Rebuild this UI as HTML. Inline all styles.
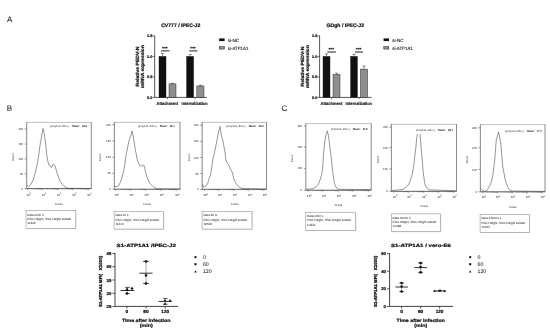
<!DOCTYPE html>
<html lang="en"><head><meta charset="utf-8"><title>Figure</title>
<style>
html,body{margin:0;padding:0;background:#fff;}
svg{display:block;font-family:"Liberation Sans", Arial, sans-serif;text-rendering:geometricPrecision;}
</style></head>
<body>
<svg width="550" height="330" viewBox="0 0 550 330">
<rect width="550" height="330" fill="#fff"/>
<text transform="translate(6.9 21.8)" font-size="8" font-weight="normal" text-anchor="start" fill="#222" stroke="#222" stroke-width="0.05" >A</text>
<text transform="translate(6.8 111.3)" font-size="8" font-weight="normal" text-anchor="start" fill="#222" stroke="#222" stroke-width="0.05" >B</text>
<text transform="translate(281.6 111.4)" font-size="8" font-weight="normal" text-anchor="start" fill="#222" stroke="#222" stroke-width="0.05" >C</text>
<text transform="translate(180.7 26.8)" font-size="5.1" font-weight="bold" text-anchor="middle" fill="#111" stroke="#111" stroke-width="0.22" >CV777 / IPEC-J2</text>
<path d="M154.7 35.599999999999994V97.4H207" stroke="#111" stroke-width="0.7" fill="none"/>
<path d="M152.7 97.4H154.7" stroke="#111" stroke-width="0.6"/>
<text transform="translate(152.39999999999998 98.75)" font-size="3.8" font-weight="bold" text-anchor="end" fill="#111" stroke="#111" stroke-width="0.22" >0.0</text>
<path d="M152.7 76.9H154.7" stroke="#111" stroke-width="0.6"/>
<text transform="translate(152.39999999999998 78.25)" font-size="3.8" font-weight="bold" text-anchor="end" fill="#111" stroke="#111" stroke-width="0.22" >0.5</text>
<path d="M152.7 56.4H154.7" stroke="#111" stroke-width="0.6"/>
<text transform="translate(152.39999999999998 57.75)" font-size="3.8" font-weight="bold" text-anchor="end" fill="#111" stroke="#111" stroke-width="0.22" >1.0</text>
<path d="M152.7 35.89999999999999H154.7" stroke="#111" stroke-width="0.6"/>
<text transform="translate(152.39999999999998 37.24999999999999)" font-size="3.8" font-weight="bold" text-anchor="end" fill="#111" stroke="#111" stroke-width="0.22" >1.5</text>
<path d="M167.4 97.4V99.2" stroke="#111" stroke-width="0.6"/>
<path d="M195 97.4V99.2" stroke="#111" stroke-width="0.6"/>
<rect x="159" y="56.4" width="7" height="41.00000000000001" fill="#111" stroke="#111" stroke-width="0.4"/>
<path d="M162.5 56.4V53.529999999999994M160.9 53.529999999999994H164.1" stroke="#222" stroke-width="0.5" fill="none"/>
<rect x="169" y="83.87" width="7" height="13.530000000000001" fill="#8e8e8e" stroke="#111" stroke-width="0.4"/>
<path d="M172.5 83.87V83.378M170.9 83.378H174.1" stroke="#222" stroke-width="0.5" fill="none"/>
<rect x="186.6" y="56.4" width="7.0" height="41.00000000000001" fill="#111" stroke="#111" stroke-width="0.4"/>
<path d="M190.1 56.4V54.349999999999994M188.5 54.349999999999994H191.7" stroke="#222" stroke-width="0.5" fill="none"/>
<rect x="196.8" y="85.92" width="7.199999999999989" height="11.480000000000004" fill="#8e8e8e" stroke="#111" stroke-width="0.4"/>
<path d="M200.4 85.92V85.305M198.8 85.305H202.0" stroke="#222" stroke-width="0.5" fill="none"/>
<path d="M161 50.9H169.5" stroke="#222" stroke-width="1.0"/>
<text transform="translate(164.85 50.0)" font-size="4.8" font-weight="bold" text-anchor="middle" fill="#111" stroke="#111" stroke-width="0.1" >***</text>
<path d="M189.2 50.9H197.4" stroke="#222" stroke-width="1.0"/>
<text transform="translate(192.9 50.0)" font-size="4.8" font-weight="bold" text-anchor="middle" fill="#111" stroke="#111" stroke-width="0.1" >***</text>
<text transform="translate(156.6 105.1) scale(0.8842 1)" font-size="4.4" font-weight="bold" text-anchor="start" fill="#111" stroke="#111" stroke-width="0.15" >Attachment</text>
<text transform="translate(181.6 105.1) scale(0.8718 1)" font-size="4.4" font-weight="bold" text-anchor="start" fill="#111" stroke="#111" stroke-width="0.15" >Internalization</text>
<text transform="translate(139 66.5) rotate(-90) scale(1.1096 1)" font-size="4.6" font-weight="bold" text-anchor="middle" fill="#111" stroke="#111" stroke-width="0.22" >Relative PEDV-N</text>
<text transform="translate(144.1 66.5) rotate(-90) scale(1.0899 1)" font-size="4.6" font-weight="bold" text-anchor="middle" fill="#111" stroke="#111" stroke-width="0.22" >mRNA expression</text>
<rect x="219.2" y="38.4" width="5.4" height="2.7" fill="#111"/>
<rect x="219.39999999999998" y="46.6" width="5" height="2.5" fill="#8e8e8e" stroke="#222" stroke-width="0.5"/>
<text transform="translate(227.79999999999998 41.5)" font-size="4.5" font-weight="normal" text-anchor="start" fill="#222" stroke="#222" stroke-width="0.12" >si-NC</text>
<text transform="translate(227.79999999999998 49.6) scale(0.9729 1)" font-size="4.5" font-weight="normal" text-anchor="start" fill="#222" stroke="#222" stroke-width="0.12" >si-ATP1A1</text>
<text transform="translate(345.3 26.8)" font-size="5.1" font-weight="bold" text-anchor="middle" fill="#111" stroke="#111" stroke-width="0.22" >GDgh / IPEC-J2</text>
<path d="M319.6 35.599999999999994V97.4H371.6" stroke="#111" stroke-width="0.7" fill="none"/>
<path d="M317.6 97.4H319.6" stroke="#111" stroke-width="0.6"/>
<text transform="translate(317.3 98.75)" font-size="3.8" font-weight="bold" text-anchor="end" fill="#111" stroke="#111" stroke-width="0.22" >0.0</text>
<path d="M317.6 76.9H319.6" stroke="#111" stroke-width="0.6"/>
<text transform="translate(317.3 78.25)" font-size="3.8" font-weight="bold" text-anchor="end" fill="#111" stroke="#111" stroke-width="0.22" >0.5</text>
<path d="M317.6 56.4H319.6" stroke="#111" stroke-width="0.6"/>
<text transform="translate(317.3 57.75)" font-size="3.8" font-weight="bold" text-anchor="end" fill="#111" stroke="#111" stroke-width="0.22" >1.0</text>
<path d="M317.6 35.89999999999999H319.6" stroke="#111" stroke-width="0.6"/>
<text transform="translate(317.3 37.24999999999999)" font-size="3.8" font-weight="bold" text-anchor="end" fill="#111" stroke="#111" stroke-width="0.22" >1.5</text>
<path d="M331.6 97.4V99.2" stroke="#111" stroke-width="0.6"/>
<path d="M359 97.4V99.2" stroke="#111" stroke-width="0.6"/>
<rect x="323" y="56.4" width="7" height="41.00000000000001" fill="#111" stroke="#111" stroke-width="0.4"/>
<path d="M326.5 56.4V53.94M324.9 53.94H328.1" stroke="#222" stroke-width="0.5" fill="none"/>
<rect x="333" y="74.44" width="7" height="22.960000000000008" fill="#8e8e8e" stroke="#111" stroke-width="0.4"/>
<path d="M336.5 74.44V73.21M334.9 73.21H338.1" stroke="#222" stroke-width="0.5" fill="none"/>
<rect x="350.6" y="56.4" width="6.7999999999999545" height="41.00000000000001" fill="#111" stroke="#111" stroke-width="0.4"/>
<path d="M354.0 56.4V54.349999999999994M352.4 54.349999999999994H355.6" stroke="#222" stroke-width="0.5" fill="none"/>
<rect x="360.4" y="69.11" width="7.2000000000000455" height="28.290000000000006" fill="#8e8e8e" stroke="#111" stroke-width="0.4"/>
<path d="M364.0 69.11V66.035M362.4 66.035H365.6" stroke="#222" stroke-width="0.5" fill="none"/>
<path d="M327.4 52H336" stroke="#222" stroke-width="1.0"/>
<text transform="translate(331.3 51.1)" font-size="4.8" font-weight="bold" text-anchor="middle" fill="#111" stroke="#111" stroke-width="0.1" >***</text>
<path d="M355 52H363" stroke="#222" stroke-width="1.0"/>
<text transform="translate(358.6 51.1)" font-size="4.8" font-weight="bold" text-anchor="middle" fill="#111" stroke="#111" stroke-width="0.1" >***</text>
<text transform="translate(320.6 105.1) scale(0.9007 1)" font-size="4.4" font-weight="bold" text-anchor="start" fill="#111" stroke="#111" stroke-width="0.15" >Attachment</text>
<text transform="translate(345.6 105.1) scale(0.8852 1)" font-size="4.4" font-weight="bold" text-anchor="start" fill="#111" stroke="#111" stroke-width="0.15" >Internalization</text>
<text transform="translate(304 66.5) rotate(-90) scale(1.1096 1)" font-size="4.6" font-weight="bold" text-anchor="middle" fill="#111" stroke="#111" stroke-width="0.22" >Relative PEDV-N</text>
<text transform="translate(309.1 66.5) rotate(-90) scale(1.0899 1)" font-size="4.6" font-weight="bold" text-anchor="middle" fill="#111" stroke="#111" stroke-width="0.22" >mRNA expression</text>
<rect x="383.6" y="38.4" width="5.4" height="2.7" fill="#111"/>
<rect x="383.8" y="46.6" width="5" height="2.5" fill="#8e8e8e" stroke="#222" stroke-width="0.5"/>
<text transform="translate(392.20000000000005 41.5)" font-size="4.5" font-weight="normal" text-anchor="start" fill="#222" stroke="#222" stroke-width="0.12" >si-NC</text>
<text transform="translate(392.20000000000005 49.6) scale(0.9729 1)" font-size="4.5" font-weight="normal" text-anchor="start" fill="#222" stroke="#222" stroke-width="0.12" >si-ATP1A1</text>
<path d="M26.7 122.4H91.3" fill="none" stroke="#8c8c8c" stroke-width="0.55"/>
<path d="M26.7 122.10000000000001V188.6M91.3 188.6V122.10000000000001" fill="none" stroke="#5a5a5a" stroke-width="0.7"/>
<path d="M26.4 188.6H91.6" fill="none" stroke="#444" stroke-width="0.85"/>
<path d="M24.599999999999998 188.6H26.7" stroke="#555" stroke-width="0.55"/>
<text transform="translate(23.0 189.6)" font-size="2.75" font-weight="normal" text-anchor="end" fill="#555" stroke="#555" stroke-width="0.05" >0</text>
<path d="M24.599999999999998 173.8H26.7" stroke="#555" stroke-width="0.55"/>
<text transform="translate(23.0 174.8)" font-size="2.75" font-weight="normal" text-anchor="end" fill="#555" stroke="#555" stroke-width="0.05" >50</text>
<path d="M24.599999999999998 158.9H26.7" stroke="#555" stroke-width="0.55"/>
<text transform="translate(23.0 159.9)" font-size="2.75" font-weight="normal" text-anchor="end" fill="#555" stroke="#555" stroke-width="0.05" >100</text>
<path d="M24.599999999999998 144H26.7" stroke="#555" stroke-width="0.55"/>
<text transform="translate(23.0 145.0)" font-size="2.75" font-weight="normal" text-anchor="end" fill="#555" stroke="#555" stroke-width="0.05" >150</text>
<path d="M24.599999999999998 129H26.7" stroke="#555" stroke-width="0.55"/>
<text transform="translate(23.0 130.0)" font-size="2.75" font-weight="normal" text-anchor="end" fill="#555" stroke="#555" stroke-width="0.05" >200</text>
<path d="M25.8 185.64H26.7M25.8 182.68H26.7M25.8 179.72H26.7M25.8 176.76H26.7M25.8 173.80H26.7M25.8 170.84H26.7M25.8 167.88H26.7M25.8 164.92H26.7M25.8 161.96H26.7M25.8 159.00H26.7M25.8 156.04H26.7M25.8 153.08H26.7M25.8 150.12H26.7M25.8 147.16H26.7M25.8 144.20H26.7M25.8 141.24H26.7M25.8 138.28H26.7M25.8 135.32H26.7M25.8 132.36H26.7M25.8 129.40H26.7M25.8 126.44H26.7M25.8 123.48H26.7" stroke="#888" stroke-width="0.35"/>
<text transform="translate(13.5 157.0) rotate(-90)" font-size="2.7" font-weight="normal" text-anchor="middle" fill="#555" stroke="#555" stroke-width="0.05" >Count</text>
<text x="28.7" y="195.6" font-size="2.8" fill="#444" stroke="#444" stroke-width="0.06" text-anchor="middle">10<tspan dy="-1.3" font-size="1.9">0</tspan></text>
<text x="44.1" y="195.6" font-size="2.8" fill="#444" stroke="#444" stroke-width="0.06" text-anchor="middle">10<tspan dy="-1.3" font-size="1.9">1</tspan></text>
<text x="59.1" y="195.6" font-size="2.8" fill="#444" stroke="#444" stroke-width="0.06" text-anchor="middle">10<tspan dy="-1.3" font-size="1.9">2</tspan></text>
<text x="74.3" y="195.6" font-size="2.8" fill="#444" stroke="#444" stroke-width="0.06" text-anchor="middle">10<tspan dy="-1.3" font-size="1.9">3</tspan></text>
<text x="89.4" y="195.6" font-size="2.8" fill="#444" stroke="#444" stroke-width="0.06" text-anchor="middle">10<tspan dy="-1.3" font-size="1.9">4</tspan></text>
<path d="M27.60 188.6V190.2M32.17 188.6V189.5M34.84 188.6V189.5M36.74 188.6V189.5M38.21 188.6V189.5M39.41 188.6V189.5M40.42 188.6V189.5M41.30 188.6V189.5M42.08 188.6V189.5M42.78 188.6V190.2M47.34 188.6V189.5M50.02 188.6V189.5M51.91 188.6V189.5M53.38 188.6V189.5M54.58 188.6V189.5M55.60 188.6V189.5M56.48 188.6V189.5M57.26 188.6V189.5M57.95 188.6V190.2M62.52 188.6V189.5M65.19 188.6V189.5M67.09 188.6V189.5M68.56 188.6V189.5M69.76 188.6V189.5M70.77 188.6V189.5M71.65 188.6V189.5M72.43 188.6V189.5M73.12 188.6V190.2M77.69 188.6V189.5M80.37 188.6V189.5M82.26 188.6V189.5M83.73 188.6V189.5M84.93 188.6V189.5M85.95 188.6V189.5M86.83 188.6V189.5M87.61 188.6V189.5M88.30 188.6V190.2" stroke="#444" stroke-width="0.45"/>
<text transform="translate(58.6 204.6)" font-size="2.7" font-weight="normal" text-anchor="middle" fill="#444" stroke="#444" stroke-width="0.06" >FL2-H</text>
<text transform="translate(50 126.95) scale(1.0191 1)" font-size="2.75" font-weight="normal" text-anchor="start" fill="#555" stroke="#555" stroke-width="0.04" >(poly1a1=51n-)</text>
<text transform="translate(70.99863574351978 126.95)" font-size="2.75" font-weight="normal" text-anchor="start" fill="#555" stroke="#555" stroke-width="0.04" >:</text>
<text transform="translate(72.2605729877217 126.95) scale(0.9904 1)" font-size="2.75" font-weight="normal" text-anchor="start" fill="#3a3a3a" stroke="#3a3a3a" stroke-width="0.1" >Mean:</text>
<text transform="translate(81.95225102319236 126.95) scale(0.9435 1)" font-size="2.75" font-weight="normal" text-anchor="start" fill="#3a3a3a" stroke="#3a3a3a" stroke-width="0.1" >26.8</text>
<polyline points="27,185 28.5,186.5 30,185.6 31,184 33,180.5 35,174 37,165 38.5,157 39.5,149 40.5,142 41.2,139 41.6,135 42.5,132 43,128.5 44,132 44.6,137 45.5,142 46,147 46.5,152 47,157 48,162 49,165 50.5,166 51.5,167.5 53,164.5 54,164.6 55,166 56.5,171 58,176 60,181 62,184 64,186 66,187.5 68,188.3 91,188.5" fill="none" stroke="#505050" stroke-width="0.6" stroke-linejoin="round"/>
<rect x="26.6" y="211.1" width="49.8" height="18.0" fill="#ddd"/>
<rect x="26" y="210.5" width="49.8" height="18.0" fill="#fff" stroke="#888" stroke-width="0.55"/>
<text transform="translate(27.3 215.5)" font-size="3.05" font-weight="normal" text-anchor="start" fill="#444" stroke="#444" stroke-width="0.04" >Data.0min 2</text>
<text transform="translate(27.3 219.75) scale(1.0031 1)" font-size="3.05" font-weight="normal" text-anchor="start" fill="#444" stroke="#444" stroke-width="0.04" >FSC-Height, SSC-Height subset</text>
<text transform="translate(27.3 224.0)" font-size="3.05" font-weight="normal" text-anchor="start" fill="#444" stroke="#444" stroke-width="0.04" >11343</text>
<path d="M114.4 122.4H180" fill="none" stroke="#8c8c8c" stroke-width="0.55"/>
<path d="M114.4 122.10000000000001V189.2M180 189.2V122.10000000000001" fill="none" stroke="#5a5a5a" stroke-width="0.7"/>
<path d="M114.10000000000001 189.2H180.3" fill="none" stroke="#444" stroke-width="0.85"/>
<path d="M112.30000000000001 189.2H114.4" stroke="#555" stroke-width="0.55"/>
<text transform="translate(110.7 190.2)" font-size="2.75" font-weight="normal" text-anchor="end" fill="#555" stroke="#555" stroke-width="0.05" >0</text>
<path d="M112.30000000000001 173.3H114.4" stroke="#555" stroke-width="0.55"/>
<text transform="translate(110.7 174.3)" font-size="2.75" font-weight="normal" text-anchor="end" fill="#555" stroke="#555" stroke-width="0.05" >50</text>
<path d="M112.30000000000001 157.2H114.4" stroke="#555" stroke-width="0.55"/>
<text transform="translate(110.7 158.2)" font-size="2.75" font-weight="normal" text-anchor="end" fill="#555" stroke="#555" stroke-width="0.05" >100</text>
<path d="M112.30000000000001 140.8H114.4" stroke="#555" stroke-width="0.55"/>
<text transform="translate(110.7 141.8)" font-size="2.75" font-weight="normal" text-anchor="end" fill="#555" stroke="#555" stroke-width="0.05" >150</text>
<path d="M112.30000000000001 124.6H114.4" stroke="#555" stroke-width="0.55"/>
<text transform="translate(110.7 125.6)" font-size="2.75" font-weight="normal" text-anchor="end" fill="#555" stroke="#555" stroke-width="0.05" >200</text>
<path d="M113.5 186.02H114.4M113.5 182.84H114.4M113.5 179.66H114.4M113.5 176.48H114.4M113.5 173.30H114.4M113.5 170.12H114.4M113.5 166.94H114.4M113.5 163.76H114.4M113.5 160.58H114.4M113.5 157.40H114.4M113.5 154.22H114.4M113.5 151.04H114.4M113.5 147.86H114.4M113.5 144.68H114.4M113.5 141.50H114.4M113.5 138.32H114.4M113.5 135.14H114.4M113.5 131.96H114.4M113.5 128.78H114.4M113.5 125.60H114.4M113.5 122.42H114.4" stroke="#888" stroke-width="0.35"/>
<text transform="translate(101 157.3) rotate(-90)" font-size="2.7" font-weight="normal" text-anchor="middle" fill="#555" stroke="#555" stroke-width="0.05" >Count</text>
<text x="116.8" y="196.39999999999998" font-size="2.8" fill="#444" stroke="#444" stroke-width="0.06" text-anchor="middle">10<tspan dy="-1.3" font-size="1.9">0</tspan></text>
<text x="131.5" y="196.39999999999998" font-size="2.8" fill="#444" stroke="#444" stroke-width="0.06" text-anchor="middle">10<tspan dy="-1.3" font-size="1.9">1</tspan></text>
<text x="146.7" y="196.39999999999998" font-size="2.8" fill="#444" stroke="#444" stroke-width="0.06" text-anchor="middle">10<tspan dy="-1.3" font-size="1.9">2</tspan></text>
<text x="161.79999999999998" y="196.39999999999998" font-size="2.8" fill="#444" stroke="#444" stroke-width="0.06" text-anchor="middle">10<tspan dy="-1.3" font-size="1.9">3</tspan></text>
<text x="177.39999999999998" y="196.39999999999998" font-size="2.8" fill="#444" stroke="#444" stroke-width="0.06" text-anchor="middle">10<tspan dy="-1.3" font-size="1.9">4</tspan></text>
<path d="M115.70 189.2V190.79999999999998M120.26 189.2V190.1M122.93 189.2V190.1M124.82 189.2V190.1M126.29 189.2V190.1M127.49 189.2V190.1M128.50 189.2V190.1M129.38 189.2V190.1M130.16 189.2V190.1M130.85 189.2V190.79999999999998M135.41 189.2V190.1M138.08 189.2V190.1M139.97 189.2V190.1M141.44 189.2V190.1M142.64 189.2V190.1M143.65 189.2V190.1M144.53 189.2V190.1M145.31 189.2V190.1M146.00 189.2V190.79999999999998M150.56 189.2V190.1M153.23 189.2V190.1M155.12 189.2V190.1M156.59 189.2V190.1M157.79 189.2V190.1M158.80 189.2V190.1M159.68 189.2V190.1M160.46 189.2V190.1M161.15 189.2V190.79999999999998M165.71 189.2V190.1M168.38 189.2V190.1M170.27 189.2V190.1M171.74 189.2V190.1M172.94 189.2V190.1M173.95 189.2V190.1M174.83 189.2V190.1M175.61 189.2V190.1M176.30 189.2V190.79999999999998" stroke="#444" stroke-width="0.45"/>
<text transform="translate(147 205.4)" font-size="2.7" font-weight="normal" text-anchor="middle" fill="#444" stroke="#444" stroke-width="0.06" >FL2-H</text>
<text transform="translate(137.9 127.05) scale(1.0137 1)" font-size="2.75" font-weight="normal" text-anchor="start" fill="#555" stroke="#555" stroke-width="0.04" >(poly1a1=51n-)</text>
<text transform="translate(158.78512960436564 127.05)" font-size="2.75" font-weight="normal" text-anchor="start" fill="#555" stroke="#555" stroke-width="0.04" >:</text>
<text transform="translate(160.04024556616645 127.05) scale(0.9852 1)" font-size="2.75" font-weight="normal" text-anchor="start" fill="#3a3a3a" stroke="#3a3a3a" stroke-width="0.1" >Mean:</text>
<text transform="translate(169.67953615279671 127.05) scale(0.9379 1)" font-size="2.75" font-weight="normal" text-anchor="start" fill="#3a3a3a" stroke="#3a3a3a" stroke-width="0.1" >42.1</text>
<polyline points="114.5,186 116,186.7 118.5,186 120,183 121.5,179 123,173.5 124,169 125,163 125.8,157 126.5,153 127.5,148 128.5,143 129.5,139 130.2,137.5 131,135 132,131 133,135 134,141 135,148 136,153 136.8,157 137.5,161 138.5,162.5 139.5,165 140.5,166.3 141.5,165.5 142.5,166 143.7,165 144.5,167 145.5,172 147,177 149,182 151,184.5 153,186.5 155,188 157,188.8 180,189" fill="none" stroke="#505050" stroke-width="0.6" stroke-linejoin="round"/>
<rect x="114.69999999999999" y="212.0" width="49.599999999999994" height="17.69999999999999" fill="#ddd"/>
<rect x="114.1" y="211.4" width="49.599999999999994" height="17.69999999999999" fill="#fff" stroke="#888" stroke-width="0.55"/>
<text transform="translate(115.39999999999999 216.4)" font-size="3.05" font-weight="normal" text-anchor="start" fill="#444" stroke="#444" stroke-width="0.04" >Data.1h 1</text>
<text transform="translate(115.39999999999999 220.65) scale(1.0031 1)" font-size="3.05" font-weight="normal" text-anchor="start" fill="#444" stroke="#444" stroke-width="0.04" >FSC-Height, SSC-Height subset</text>
<text transform="translate(115.39999999999999 224.9)" font-size="3.05" font-weight="normal" text-anchor="start" fill="#444" stroke="#444" stroke-width="0.04" >11410</text>
<path d="M202.2 122.4H266.5" fill="none" stroke="#8c8c8c" stroke-width="0.55"/>
<path d="M202.2 122.10000000000001V189.3M266.5 189.3V122.10000000000001" fill="none" stroke="#5a5a5a" stroke-width="0.7"/>
<path d="M201.89999999999998 189.3H266.8" fill="none" stroke="#444" stroke-width="0.85"/>
<path d="M200.1 189.3H202.2" stroke="#555" stroke-width="0.55"/>
<text transform="translate(198.5 190.3)" font-size="2.75" font-weight="normal" text-anchor="end" fill="#555" stroke="#555" stroke-width="0.05" >0</text>
<path d="M200.1 173.5H202.2" stroke="#555" stroke-width="0.55"/>
<text transform="translate(198.5 174.5)" font-size="2.75" font-weight="normal" text-anchor="end" fill="#555" stroke="#555" stroke-width="0.05" >50</text>
<path d="M200.1 157.5H202.2" stroke="#555" stroke-width="0.55"/>
<text transform="translate(198.5 158.5)" font-size="2.75" font-weight="normal" text-anchor="end" fill="#555" stroke="#555" stroke-width="0.05" >100</text>
<path d="M200.1 141.3H202.2" stroke="#555" stroke-width="0.55"/>
<text transform="translate(198.5 142.3)" font-size="2.75" font-weight="normal" text-anchor="end" fill="#555" stroke="#555" stroke-width="0.05" >150</text>
<path d="M200.1 125.3H202.2" stroke="#555" stroke-width="0.55"/>
<text transform="translate(198.5 126.3)" font-size="2.75" font-weight="normal" text-anchor="end" fill="#555" stroke="#555" stroke-width="0.05" >200</text>
<path d="M201.29999999999998 186.14H202.2M201.29999999999998 182.98H202.2M201.29999999999998 179.82H202.2M201.29999999999998 176.66H202.2M201.29999999999998 173.50H202.2M201.29999999999998 170.34H202.2M201.29999999999998 167.18H202.2M201.29999999999998 164.02H202.2M201.29999999999998 160.86H202.2M201.29999999999998 157.70H202.2M201.29999999999998 154.54H202.2M201.29999999999998 151.38H202.2M201.29999999999998 148.22H202.2M201.29999999999998 145.06H202.2M201.29999999999998 141.90H202.2M201.29999999999998 138.74H202.2M201.29999999999998 135.58H202.2M201.29999999999998 132.42H202.2M201.29999999999998 129.26H202.2M201.29999999999998 126.10H202.2M201.29999999999998 122.94H202.2" stroke="#888" stroke-width="0.35"/>
<text transform="translate(190 157.35000000000002) rotate(-90)" font-size="2.7" font-weight="normal" text-anchor="middle" fill="#555" stroke="#555" stroke-width="0.05" >Count</text>
<text x="205.6" y="196.39999999999998" font-size="2.8" fill="#444" stroke="#444" stroke-width="0.06" text-anchor="middle">10<tspan dy="-1.3" font-size="1.9">0</tspan></text>
<text x="220.0" y="196.39999999999998" font-size="2.8" fill="#444" stroke="#444" stroke-width="0.06" text-anchor="middle">10<tspan dy="-1.3" font-size="1.9">1</tspan></text>
<text x="235.0" y="196.39999999999998" font-size="2.8" fill="#444" stroke="#444" stroke-width="0.06" text-anchor="middle">10<tspan dy="-1.3" font-size="1.9">2</tspan></text>
<text x="250.1" y="196.39999999999998" font-size="2.8" fill="#444" stroke="#444" stroke-width="0.06" text-anchor="middle">10<tspan dy="-1.3" font-size="1.9">3</tspan></text>
<text x="264.8" y="196.39999999999998" font-size="2.8" fill="#444" stroke="#444" stroke-width="0.06" text-anchor="middle">10<tspan dy="-1.3" font-size="1.9">4</tspan></text>
<path d="M204.50 189.3V190.9M208.96 189.3V190.20000000000002M211.56 189.3V190.20000000000002M213.41 189.3V190.20000000000002M214.84 189.3V190.20000000000002M216.02 189.3V190.20000000000002M217.01 189.3V190.20000000000002M217.87 189.3V190.20000000000002M218.62 189.3V190.20000000000002M219.30 189.3V190.9M223.76 189.3V190.20000000000002M226.36 189.3V190.20000000000002M228.21 189.3V190.20000000000002M229.64 189.3V190.20000000000002M230.82 189.3V190.20000000000002M231.81 189.3V190.20000000000002M232.67 189.3V190.20000000000002M233.42 189.3V190.20000000000002M234.10 189.3V190.9M238.56 189.3V190.20000000000002M241.16 189.3V190.20000000000002M243.01 189.3V190.20000000000002M244.44 189.3V190.20000000000002M245.62 189.3V190.20000000000002M246.61 189.3V190.20000000000002M247.47 189.3V190.20000000000002M248.22 189.3V190.20000000000002M248.90 189.3V190.9M253.36 189.3V190.20000000000002M255.96 189.3V190.20000000000002M257.81 189.3V190.20000000000002M259.24 189.3V190.20000000000002M260.42 189.3V190.20000000000002M261.41 189.3V190.20000000000002M262.27 189.3V190.20000000000002M263.02 189.3V190.20000000000002M263.70 189.3V190.9" stroke="#444" stroke-width="0.45"/>
<text transform="translate(234.8 205.4)" font-size="2.7" font-weight="normal" text-anchor="middle" fill="#444" stroke="#444" stroke-width="0.06" >FL2-H</text>
<text transform="translate(226.3 126.95) scale(1.0245 1)" font-size="2.75" font-weight="normal" text-anchor="start" fill="#555" stroke="#555" stroke-width="0.04" >(poly1a1=51n-)</text>
<text transform="translate(247.41214188267395 126.95)" font-size="2.75" font-weight="normal" text-anchor="start" fill="#555" stroke="#555" stroke-width="0.04" >:</text>
<text transform="translate(248.68090040927694 126.95) scale(0.9957 1)" font-size="2.75" font-weight="normal" text-anchor="start" fill="#3a3a3a" stroke="#3a3a3a" stroke-width="0.1" >Mean:</text>
<text transform="translate(258.424965893588 126.95) scale(0.9491 1)" font-size="2.75" font-weight="normal" text-anchor="start" fill="#3a3a3a" stroke="#3a3a3a" stroke-width="0.1" >26.3</text>
<polyline points="202.5,184 203.5,187 205.5,186.5 207.5,184 209,179 210.5,174.5 211.5,169 212.5,162 213.3,157 214,155 215,150 216,145 217,140 218,135 219,130 219.6,129.5 220,126.5 220.5,130 221.5,136 223,141 224,147 225,152 225.5,157 226,161 227,163 228.5,164.5 229.5,167 231,170 232.5,173 233.3,177 234.5,181 236.5,184 239,187 242,188.5 266,189" fill="none" stroke="#505050" stroke-width="0.6" stroke-linejoin="round"/>
<rect x="202.7" y="212.0" width="49.900000000000006" height="17.69999999999999" fill="#ddd"/>
<rect x="202.1" y="211.4" width="49.900000000000006" height="17.69999999999999" fill="#fff" stroke="#888" stroke-width="0.55"/>
<text transform="translate(203.4 216.4)" font-size="3.05" font-weight="normal" text-anchor="start" fill="#444" stroke="#444" stroke-width="0.04" >Data.2h 3</text>
<text transform="translate(203.4 220.65) scale(1.0031 1)" font-size="3.05" font-weight="normal" text-anchor="start" fill="#444" stroke="#444" stroke-width="0.04" >FSC-Height, SSC-Height subset</text>
<text transform="translate(203.4 224.9)" font-size="3.05" font-weight="normal" text-anchor="start" fill="#444" stroke="#444" stroke-width="0.04" >11538</text>
<path d="M305.8 123.6H371.2" fill="none" stroke="#8c8c8c" stroke-width="0.55"/>
<path d="M305.8 123.3V190.2M371.2 190.2V123.3" fill="none" stroke="#5a5a5a" stroke-width="0.7"/>
<path d="M305.5 190.2H371.5" fill="none" stroke="#444" stroke-width="0.85"/>
<path d="M303.7 190.2H305.8" stroke="#555" stroke-width="0.55"/>
<text transform="translate(302.1 191.2)" font-size="2.75" font-weight="normal" text-anchor="end" fill="#555" stroke="#555" stroke-width="0.05" >0</text>
<path d="M303.7 168.4H305.8" stroke="#555" stroke-width="0.55"/>
<text transform="translate(302.1 169.4)" font-size="2.75" font-weight="normal" text-anchor="end" fill="#555" stroke="#555" stroke-width="0.05" >100</text>
<path d="M303.7 147H305.8" stroke="#555" stroke-width="0.55"/>
<text transform="translate(302.1 148.0)" font-size="2.75" font-weight="normal" text-anchor="end" fill="#555" stroke="#555" stroke-width="0.05" >200</text>
<path d="M303.7 126.1H305.8" stroke="#555" stroke-width="0.55"/>
<text transform="translate(302.1 127.1)" font-size="2.75" font-weight="normal" text-anchor="end" fill="#555" stroke="#555" stroke-width="0.05" >300</text>
<path d="M304.90000000000003 185.84H305.8M304.90000000000003 181.48H305.8M304.90000000000003 177.12H305.8M304.90000000000003 172.76H305.8M304.90000000000003 168.40H305.8M304.90000000000003 164.04H305.8M304.90000000000003 159.68H305.8M304.90000000000003 155.32H305.8M304.90000000000003 150.96H305.8M304.90000000000003 146.60H305.8M304.90000000000003 142.24H305.8M304.90000000000003 137.88H305.8M304.90000000000003 133.52H305.8M304.90000000000003 129.16H305.8M304.90000000000003 124.80H305.8" stroke="#888" stroke-width="0.35"/>
<text transform="translate(293.4 158.39999999999998) rotate(-90)" font-size="2.7" font-weight="normal" text-anchor="middle" fill="#555" stroke="#555" stroke-width="0.05" >Count</text>
<text x="309.2" y="197.1" font-size="2.8" fill="#444" stroke="#444" stroke-width="0.06" text-anchor="middle">10<tspan dy="-1.3" font-size="1.9">0</tspan></text>
<text x="324.0" y="197.1" font-size="2.8" fill="#444" stroke="#444" stroke-width="0.06" text-anchor="middle">10<tspan dy="-1.3" font-size="1.9">1</tspan></text>
<text x="338.9" y="197.1" font-size="2.8" fill="#444" stroke="#444" stroke-width="0.06" text-anchor="middle">10<tspan dy="-1.3" font-size="1.9">2</tspan></text>
<text x="354.3" y="197.1" font-size="2.8" fill="#444" stroke="#444" stroke-width="0.06" text-anchor="middle">10<tspan dy="-1.3" font-size="1.9">3</tspan></text>
<text x="369.5" y="197.1" font-size="2.8" fill="#444" stroke="#444" stroke-width="0.06" text-anchor="middle">10<tspan dy="-1.3" font-size="1.9">4</tspan></text>
<path d="M308.10 190.2V191.79999999999998M312.64 190.2V191.1M315.29 190.2V191.1M317.18 190.2V191.1M318.64 190.2V191.1M319.83 190.2V191.1M320.84 190.2V191.1M321.71 190.2V191.1M322.49 190.2V191.1M323.18 190.2V191.79999999999998M327.71 190.2V191.1M330.37 190.2V191.1M332.25 190.2V191.1M333.71 190.2V191.1M334.91 190.2V191.1M335.91 190.2V191.1M336.79 190.2V191.1M337.56 190.2V191.1M338.25 190.2V191.79999999999998M342.79 190.2V191.1M345.44 190.2V191.1M347.33 190.2V191.1M348.79 190.2V191.1M349.98 190.2V191.1M350.99 190.2V191.1M351.86 190.2V191.1M352.64 190.2V191.1M353.33 190.2V191.79999999999998M357.86 190.2V191.1M360.52 190.2V191.1M362.40 190.2V191.1M363.86 190.2V191.1M365.06 190.2V191.1M366.06 190.2V191.1M366.94 190.2V191.1M367.71 190.2V191.1M368.40 190.2V191.79999999999998" stroke="#444" stroke-width="0.45"/>
<text transform="translate(338.5 206.3)" font-size="2.7" font-weight="normal" text-anchor="middle" fill="#444" stroke="#444" stroke-width="0.06" >FL2-H</text>
<text transform="translate(330.8 130.35) scale(1.0164 1)" font-size="2.75" font-weight="normal" text-anchor="start" fill="#555" stroke="#555" stroke-width="0.04" >(poly1a1=51n-)</text>
<text transform="translate(351.7418826739427 130.35)" font-size="2.75" font-weight="normal" text-anchor="start" fill="#555" stroke="#555" stroke-width="0.04" >:</text>
<text transform="translate(353.0004092769441 130.35) scale(0.9878 1)" font-size="2.75" font-weight="normal" text-anchor="start" fill="#3a3a3a" stroke="#3a3a3a" stroke-width="0.1" >Mean:</text>
<text transform="translate(362.66589358799456 130.35) scale(0.9398 1)" font-size="2.75" font-weight="normal" text-anchor="start" fill="#3a3a3a" stroke="#3a3a3a" stroke-width="0.1" >22.5</text>
<polyline points="306,189.3 310,189 313,188.5 316,187 318.5,184 320,180 321.5,175 322.5,169 323,163 323.3,157 323.7,152 324.3,146 325,140 326,135 327.3,130.8 328.3,135 329,140 329.7,146 330.5,152 331.2,157 331.8,163 332.5,170 333.3,176 334,181 335,185 336.5,188 339,189.3 371,189.6" fill="none" stroke="#505050" stroke-width="0.6" stroke-linejoin="round"/>
<rect x="306.40000000000003" y="212.79999999999998" width="49.89999999999998" height="18.200000000000017" fill="#ddd"/>
<rect x="305.8" y="212.2" width="49.89999999999998" height="18.200000000000017" fill="#fff" stroke="#888" stroke-width="0.55"/>
<text transform="translate(307.1 217.2)" font-size="3.05" font-weight="normal" text-anchor="start" fill="#444" stroke="#444" stroke-width="0.04" >Data.0min 1</text>
<text transform="translate(307.1 221.45) scale(1.0031 1)" font-size="3.05" font-weight="normal" text-anchor="start" fill="#444" stroke="#444" stroke-width="0.04" >FSC-Height, SSC-Height subset</text>
<text transform="translate(307.1 225.7)" font-size="3.05" font-weight="normal" text-anchor="start" fill="#444" stroke="#444" stroke-width="0.04" >10331</text>
<path d="M391.4 124.3H456.5" fill="none" stroke="#8c8c8c" stroke-width="0.55"/>
<path d="M391.4 124.0V191.3M456.5 191.3V124.0" fill="none" stroke="#5a5a5a" stroke-width="0.7"/>
<path d="M391.09999999999997 191.3H456.8" fill="none" stroke="#444" stroke-width="0.85"/>
<path d="M389.29999999999995 191.3H391.4" stroke="#555" stroke-width="0.55"/>
<text transform="translate(387.7 192.3)" font-size="2.75" font-weight="normal" text-anchor="end" fill="#555" stroke="#555" stroke-width="0.05" >0</text>
<path d="M389.29999999999995 169H391.4" stroke="#555" stroke-width="0.55"/>
<text transform="translate(387.7 170.0)" font-size="2.75" font-weight="normal" text-anchor="end" fill="#555" stroke="#555" stroke-width="0.05" >100</text>
<path d="M389.29999999999995 147.5H391.4" stroke="#555" stroke-width="0.55"/>
<text transform="translate(387.7 148.5)" font-size="2.75" font-weight="normal" text-anchor="end" fill="#555" stroke="#555" stroke-width="0.05" >200</text>
<path d="M389.29999999999995 127.3H391.4" stroke="#555" stroke-width="0.55"/>
<text transform="translate(387.7 128.3)" font-size="2.75" font-weight="normal" text-anchor="end" fill="#555" stroke="#555" stroke-width="0.05" >300</text>
<path d="M390.5 186.84H391.4M390.5 182.38H391.4M390.5 177.92H391.4M390.5 173.46H391.4M390.5 169.00H391.4M390.5 164.54H391.4M390.5 160.08H391.4M390.5 155.62H391.4M390.5 151.16H391.4M390.5 146.70H391.4M390.5 142.24H391.4M390.5 137.78H391.4M390.5 133.32H391.4M390.5 128.86H391.4M390.5 124.40H391.4" stroke="#888" stroke-width="0.35"/>
<text transform="translate(378.9 159.3) rotate(-90)" font-size="2.7" font-weight="normal" text-anchor="middle" fill="#555" stroke="#555" stroke-width="0.05" >Count</text>
<text x="395.09999999999997" y="197.6" font-size="2.8" fill="#444" stroke="#444" stroke-width="0.06" text-anchor="middle">10<tspan dy="-1.3" font-size="1.9">0</tspan></text>
<text x="409.4" y="197.6" font-size="2.8" fill="#444" stroke="#444" stroke-width="0.06" text-anchor="middle">10<tspan dy="-1.3" font-size="1.9">1</tspan></text>
<text x="424.4" y="197.6" font-size="2.8" fill="#444" stroke="#444" stroke-width="0.06" text-anchor="middle">10<tspan dy="-1.3" font-size="1.9">2</tspan></text>
<text x="439.5" y="197.6" font-size="2.8" fill="#444" stroke="#444" stroke-width="0.06" text-anchor="middle">10<tspan dy="-1.3" font-size="1.9">3</tspan></text>
<text x="454.5" y="197.6" font-size="2.8" fill="#444" stroke="#444" stroke-width="0.06" text-anchor="middle">10<tspan dy="-1.3" font-size="1.9">4</tspan></text>
<path d="M394.00 191.3V192.9M398.47 191.3V192.20000000000002M401.09 191.3V192.20000000000002M402.94 191.3V192.20000000000002M404.38 191.3V192.20000000000002M405.56 191.3V192.20000000000002M406.55 191.3V192.20000000000002M407.41 191.3V192.20000000000002M408.17 191.3V192.20000000000002M408.85 191.3V192.9M413.32 191.3V192.20000000000002M415.94 191.3V192.20000000000002M417.79 191.3V192.20000000000002M419.23 191.3V192.20000000000002M420.41 191.3V192.20000000000002M421.40 191.3V192.20000000000002M422.26 191.3V192.20000000000002M423.02 191.3V192.20000000000002M423.70 191.3V192.9M428.17 191.3V192.20000000000002M430.79 191.3V192.20000000000002M432.64 191.3V192.20000000000002M434.08 191.3V192.20000000000002M435.26 191.3V192.20000000000002M436.25 191.3V192.20000000000002M437.11 191.3V192.20000000000002M437.87 191.3V192.20000000000002M438.55 191.3V192.9M443.02 191.3V192.20000000000002M445.64 191.3V192.20000000000002M447.49 191.3V192.20000000000002M448.93 191.3V192.20000000000002M450.11 191.3V192.20000000000002M451.10 191.3V192.20000000000002M451.96 191.3V192.20000000000002M452.72 191.3V192.20000000000002M453.40 191.3V192.9" stroke="#444" stroke-width="0.45"/>
<text transform="translate(424 207.1)" font-size="2.7" font-weight="normal" text-anchor="middle" fill="#444" stroke="#444" stroke-width="0.06" >FL2-H</text>
<text transform="translate(415.8 131.45) scale(1.0245 1)" font-size="2.75" font-weight="normal" text-anchor="start" fill="#555" stroke="#555" stroke-width="0.04" >(poly1a1=51n-)</text>
<text transform="translate(436.91214188267395 131.45)" font-size="2.75" font-weight="normal" text-anchor="start" fill="#555" stroke="#555" stroke-width="0.04" >:</text>
<text transform="translate(438.18090040927694 131.45) scale(0.9957 1)" font-size="2.75" font-weight="normal" text-anchor="start" fill="#3a3a3a" stroke="#3a3a3a" stroke-width="0.1" >Mean:</text>
<text transform="translate(447.924965893588 131.45) scale(0.9491 1)" font-size="2.75" font-weight="normal" text-anchor="start" fill="#3a3a3a" stroke="#3a3a3a" stroke-width="0.1" >45.1</text>
<polyline points="391.5,190.5 403,189.5 405,188 407,186.5 409,184 410.5,180 412,175 413,170 414,164 414.7,157 415.3,152 416,146 416.5,140 417.3,134" fill="none" stroke="#505050" stroke-width="0.6" stroke-linejoin="round"/>
<rect x="391.90000000000003" y="214.5" width="49.39999999999998" height="17.69999999999999" fill="#ddd"/>
<rect x="391.3" y="213.9" width="49.39999999999998" height="17.69999999999999" fill="#fff" stroke="#888" stroke-width="0.55"/>
<text transform="translate(392.6 218.9)" font-size="3.05" font-weight="normal" text-anchor="start" fill="#444" stroke="#444" stroke-width="0.04" >Data.60min 2</text>
<text transform="translate(392.6 223.15) scale(1.0031 1)" font-size="3.05" font-weight="normal" text-anchor="start" fill="#444" stroke="#444" stroke-width="0.04" >FSC-Height, SSC-Height subset</text>
<text transform="translate(392.6 227.4)" font-size="3.05" font-weight="normal" text-anchor="start" fill="#444" stroke="#444" stroke-width="0.04" >10488</text>
<polyline points="420,134 420.5,140 421,146 421.5,152 422,157 422.5,163 423,170 423.7,176 424.5,182 425.5,186 427,188 429,189.8 456,190.8" fill="none" stroke="#505050" stroke-width="0.6" stroke-linejoin="round"/>
<path d="M480.4 124.6H545" fill="none" stroke="#8c8c8c" stroke-width="0.55"/>
<path d="M480.4 124.3V191.8M545 191.8V124.3" fill="none" stroke="#5a5a5a" stroke-width="0.7"/>
<path d="M480.09999999999997 191.8H545.3" fill="none" stroke="#444" stroke-width="0.85"/>
<path d="M478.29999999999995 191.8H480.4" stroke="#555" stroke-width="0.55"/>
<text transform="translate(476.7 192.8)" font-size="2.75" font-weight="normal" text-anchor="end" fill="#555" stroke="#555" stroke-width="0.05" >0</text>
<path d="M478.29999999999995 169.5H480.4" stroke="#555" stroke-width="0.55"/>
<text transform="translate(476.7 170.5)" font-size="2.75" font-weight="normal" text-anchor="end" fill="#555" stroke="#555" stroke-width="0.05" >100</text>
<path d="M478.29999999999995 147.8H480.4" stroke="#555" stroke-width="0.55"/>
<text transform="translate(476.7 148.8)" font-size="2.75" font-weight="normal" text-anchor="end" fill="#555" stroke="#555" stroke-width="0.05" >200</text>
<path d="M478.29999999999995 127.8H480.4" stroke="#555" stroke-width="0.55"/>
<text transform="translate(476.7 128.8)" font-size="2.75" font-weight="normal" text-anchor="end" fill="#555" stroke="#555" stroke-width="0.05" >300</text>
<path d="M479.5 187.34H480.4M479.5 182.88H480.4M479.5 178.42H480.4M479.5 173.96H480.4M479.5 169.50H480.4M479.5 165.04H480.4M479.5 160.58H480.4M479.5 156.12H480.4M479.5 151.66H480.4M479.5 147.20H480.4M479.5 142.74H480.4M479.5 138.28H480.4M479.5 133.82H480.4M479.5 129.36H480.4M479.5 124.90H480.4" stroke="#888" stroke-width="0.35"/>
<text transform="translate(468 159.7) rotate(-90)" font-size="2.7" font-weight="normal" text-anchor="middle" fill="#555" stroke="#555" stroke-width="0.05" >Count</text>
<text x="483.9" y="198.1" font-size="2.8" fill="#444" stroke="#444" stroke-width="0.06" text-anchor="middle">10<tspan dy="-1.3" font-size="1.9">0</tspan></text>
<text x="498.09999999999997" y="198.1" font-size="2.8" fill="#444" stroke="#444" stroke-width="0.06" text-anchor="middle">10<tspan dy="-1.3" font-size="1.9">1</tspan></text>
<text x="513.0" y="198.1" font-size="2.8" fill="#444" stroke="#444" stroke-width="0.06" text-anchor="middle">10<tspan dy="-1.3" font-size="1.9">2</tspan></text>
<text x="528.1" y="198.1" font-size="2.8" fill="#444" stroke="#444" stroke-width="0.06" text-anchor="middle">10<tspan dy="-1.3" font-size="1.9">3</tspan></text>
<text x="543.1" y="198.1" font-size="2.8" fill="#444" stroke="#444" stroke-width="0.06" text-anchor="middle">10<tspan dy="-1.3" font-size="1.9">4</tspan></text>
<path d="M482.80 191.8V193.4M487.26 191.8V192.70000000000002M489.86 191.8V192.70000000000002M491.71 191.8V192.70000000000002M493.14 191.8V192.70000000000002M494.32 191.8V192.70000000000002M495.31 191.8V192.70000000000002M496.17 191.8V192.70000000000002M496.92 191.8V192.70000000000002M497.60 191.8V193.4M502.06 191.8V192.70000000000002M504.66 191.8V192.70000000000002M506.51 191.8V192.70000000000002M507.94 191.8V192.70000000000002M509.12 191.8V192.70000000000002M510.11 191.8V192.70000000000002M510.97 191.8V192.70000000000002M511.72 191.8V192.70000000000002M512.40 191.8V193.4M516.86 191.8V192.70000000000002M519.46 191.8V192.70000000000002M521.31 191.8V192.70000000000002M522.74 191.8V192.70000000000002M523.92 191.8V192.70000000000002M524.91 191.8V192.70000000000002M525.77 191.8V192.70000000000002M526.52 191.8V192.70000000000002M527.20 191.8V193.4M531.66 191.8V192.70000000000002M534.26 191.8V192.70000000000002M536.11 191.8V192.70000000000002M537.54 191.8V192.70000000000002M538.72 191.8V192.70000000000002M539.71 191.8V192.70000000000002M540.57 191.8V192.70000000000002M541.32 191.8V192.70000000000002M542.00 191.8V193.4" stroke="#444" stroke-width="0.45"/>
<text transform="translate(512.8 207.9)" font-size="2.7" font-weight="normal" text-anchor="middle" fill="#444" stroke="#444" stroke-width="0.06" >FL2-H</text>
<text transform="translate(505.1 131.85) scale(1.0111 1)" font-size="2.75" font-weight="normal" text-anchor="start" fill="#555" stroke="#555" stroke-width="0.04" >(poly1a1=51n-)</text>
<text transform="translate(525.9283765347885 131.85)" font-size="2.75" font-weight="normal" text-anchor="start" fill="#555" stroke="#555" stroke-width="0.04" >:</text>
<text transform="translate(527.1800818553888 131.85) scale(0.9826 1)" font-size="2.75" font-weight="normal" text-anchor="start" fill="#3a3a3a" stroke="#3a3a3a" stroke-width="0.1" >Mean:</text>
<text transform="translate(536.7931787175988 131.85) scale(0.9360 1)" font-size="2.75" font-weight="normal" text-anchor="start" fill="#3a3a3a" stroke="#3a3a3a" stroke-width="0.1" >17.7</text>
<polyline points="480.8,188.5 482,190 484,191.2 487,190.5 489,187 491,183 492.5,177 493.5,170 494.3,164 495,157 495.3,152 495.8,146 496.3,140 497.5,136 498.5,132 499.5,136 500.3,141 501,146 501.5,152 501.9,157 502.3,163 503,168 504,173 505,179 506.5,184 508,187.5 509.5,189.8 512,191 545,191.4" fill="none" stroke="#505050" stroke-width="0.6" stroke-linejoin="round"/>
<rect x="480.70000000000005" y="215.0" width="49.39999999999998" height="18.0" fill="#ddd"/>
<rect x="480.1" y="214.4" width="49.39999999999998" height="18.0" fill="#fff" stroke="#888" stroke-width="0.55"/>
<text transform="translate(481.40000000000003 219.4)" font-size="3.05" font-weight="normal" text-anchor="start" fill="#444" stroke="#444" stroke-width="0.04" >Data.120min 1</text>
<text transform="translate(481.40000000000003 223.65) scale(1.0031 1)" font-size="3.05" font-weight="normal" text-anchor="start" fill="#444" stroke="#444" stroke-width="0.04" >FSC-Height, SSC-Height subset</text>
<text transform="translate(481.40000000000003 227.9)" font-size="3.05" font-weight="normal" text-anchor="start" fill="#444" stroke="#444" stroke-width="0.04" >10262</text>
<text transform="translate(116.6 246.5) scale(1.3379 1)" font-size="4.6" font-weight="bold" text-anchor="start" fill="#111" stroke="#111" stroke-width="0.22" >S1-ATP1A1 /IPEC-J2</text>
<path d="M115 253.00000000000003V306.4H178" stroke="#111" stroke-width="0.8" fill="none"/>
<path d="M112.3 306.6H115" stroke="#111" stroke-width="0.7"/>
<text transform="translate(111.4 308.1)" font-size="4.3" font-weight="bold" text-anchor="end" fill="#111" stroke="#111" stroke-width="0.22" >25</text>
<path d="M112.3 293.3H115" stroke="#111" stroke-width="0.7"/>
<text transform="translate(111.4 294.8)" font-size="4.3" font-weight="bold" text-anchor="end" fill="#111" stroke="#111" stroke-width="0.22" >30</text>
<path d="M112.3 280.0H115" stroke="#111" stroke-width="0.7"/>
<text transform="translate(111.4 281.5)" font-size="4.3" font-weight="bold" text-anchor="end" fill="#111" stroke="#111" stroke-width="0.22" >35</text>
<path d="M112.3 266.70000000000005H115" stroke="#111" stroke-width="0.7"/>
<text transform="translate(111.4 268.20000000000005)" font-size="4.3" font-weight="bold" text-anchor="end" fill="#111" stroke="#111" stroke-width="0.22" >40</text>
<path d="M112.3 253.40000000000003H115" stroke="#111" stroke-width="0.7"/>
<text transform="translate(111.4 254.90000000000003)" font-size="4.3" font-weight="bold" text-anchor="end" fill="#111" stroke="#111" stroke-width="0.22" >45</text>
<path d="M126.9 306.4V308.59999999999997" stroke="#111" stroke-width="0.7"/>
<text transform="translate(125.55000000000001 313.2) scale(1.1034 1)" font-size="4.4" font-weight="bold" text-anchor="start" fill="#111" stroke="#111" stroke-width="0.22" >0</text>
<path d="M146 306.4V308.59999999999997" stroke="#111" stroke-width="0.7"/>
<text transform="translate(143.3 313.2) scale(1.1034 1)" font-size="4.4" font-weight="bold" text-anchor="start" fill="#111" stroke="#111" stroke-width="0.22" >60</text>
<path d="M165.2 306.4V308.59999999999997" stroke="#111" stroke-width="0.7"/>
<text transform="translate(161.35 313.2) scale(1.0489 1)" font-size="4.4" font-weight="bold" text-anchor="start" fill="#111" stroke="#111" stroke-width="0.22" >120</text>
<text transform="translate(121.9 321.6) scale(1.1501 1)" font-size="4.6" font-weight="bold" text-anchor="start" fill="#111" stroke="#111" stroke-width="0.22" >Time after infection</text>
<text transform="translate(139.75 326.5) scale(1.1564 1)" font-size="4.6" font-weight="bold" text-anchor="start" fill="#111" stroke="#111" stroke-width="0.22" >(min)</text>
<text transform="translate(102.3 307) rotate(-90) scale(1.0033 1)" font-size="4.3" font-weight="bold" text-anchor="start" fill="#111" stroke="#111" stroke-width="0.3" >S1-ATP1A1 MFI(</text>
<text transform="translate(102.3 270.3) rotate(-90) scale(1.0529 1)" font-size="4.3" font-weight="bold" text-anchor="start" fill="#111" stroke="#111" stroke-width="0.3" >X1000)</text>
<path d="M127.5 287.4V293.6" stroke="#555" stroke-width="0.5" fill="none"/>
<path d="M120.5 290.5H134.4" stroke="#1a1a1a" stroke-width="0.9" fill="none"/>
<path d="M125.1 287.4H129.9M125.1 293.6H129.9" stroke="#222" stroke-width="0.75" fill="none"/>
<circle cx="127" cy="289.5" r="1.25" fill="#111"/>
<circle cx="132" cy="288.4" r="1.25" fill="#111"/>
<circle cx="127" cy="293.6" r="1.25" fill="#111"/>
<path d="M146 261.4V283.5" stroke="#555" stroke-width="0.5" fill="none"/>
<path d="M139.4 273.2H152.6" stroke="#1a1a1a" stroke-width="0.9" fill="none"/>
<path d="M143 261.4H149M143 283.5H149" stroke="#222" stroke-width="0.75" fill="none"/>
<rect x="144.85" y="260.25" width="2.3" height="2.3" fill="#111"/>
<rect x="144.85" y="274.25" width="2.3" height="2.3" fill="#111"/>
<rect x="144.85" y="282.35" width="2.3" height="2.3" fill="#111"/>
<path d="M165.3 298.6V304.2" stroke="#555" stroke-width="0.5" fill="none"/>
<path d="M158.6 301.4H172" stroke="#1a1a1a" stroke-width="0.9" fill="none"/>
<path d="M163.0 298.6H167.60000000000002M163.0 304.2H167.60000000000002" stroke="#222" stroke-width="0.75" fill="none"/>
<path d="M165 298.9L166.3 301.24H163.7Z" fill="#111"/>
<path d="M170 298.9L171.3 301.24H168.7Z" fill="#111"/>
<path d="M165 302.5L166.3 304.84000000000003H163.7Z" fill="#111"/>
<circle cx="195.5" cy="257.2" r="1.125" fill="#111"/>
<text transform="translate(202.9 259.09999999999997)" font-size="5.2" font-weight="normal" text-anchor="start" fill="#333" stroke="#333" stroke-width="0.08" >0</text>
<rect x="194.465" y="263.16499999999996" width="2.07" height="2.07" fill="#111"/>
<text transform="translate(202.9 266.09999999999997)" font-size="5.2" font-weight="normal" text-anchor="start" fill="#333" stroke="#333" stroke-width="0.08" >60</text>
<path d="M195.5 270.33L196.67 272.436H194.33Z" fill="#111"/>
<text transform="translate(202.9 273.4)" font-size="5.2" font-weight="normal" text-anchor="start" fill="#333" stroke="#333" stroke-width="0.08" >120</text>
<text transform="translate(391 246.5) scale(1.3285 1)" font-size="4.6" font-weight="bold" text-anchor="start" fill="#111" stroke="#111" stroke-width="0.22" >S1-ATP1A1 / vero-E6</text>
<path d="M389.6 253.15V306.4H453" stroke="#111" stroke-width="0.8" fill="none"/>
<path d="M386.90000000000003 306.5H389.6" stroke="#111" stroke-width="0.7"/>
<text transform="translate(386.0 308.0)" font-size="4.3" font-weight="bold" text-anchor="end" fill="#111" stroke="#111" stroke-width="0.22" >0</text>
<path d="M386.90000000000003 288.85H389.6" stroke="#111" stroke-width="0.7"/>
<text transform="translate(386.0 290.35)" font-size="4.3" font-weight="bold" text-anchor="end" fill="#111" stroke="#111" stroke-width="0.22" >20</text>
<path d="M386.90000000000003 271.2H389.6" stroke="#111" stroke-width="0.7"/>
<text transform="translate(386.0 272.7)" font-size="4.3" font-weight="bold" text-anchor="end" fill="#111" stroke="#111" stroke-width="0.22" >40</text>
<path d="M386.90000000000003 253.55H389.6" stroke="#111" stroke-width="0.7"/>
<text transform="translate(386.0 255.05)" font-size="4.3" font-weight="bold" text-anchor="end" fill="#111" stroke="#111" stroke-width="0.22" >60</text>
<path d="M401.6 306.4V308.59999999999997" stroke="#111" stroke-width="0.7"/>
<text transform="translate(400.25 313.2) scale(1.1034 1)" font-size="4.4" font-weight="bold" text-anchor="start" fill="#111" stroke="#111" stroke-width="0.22" >0</text>
<path d="M420.6 306.4V308.59999999999997" stroke="#111" stroke-width="0.7"/>
<text transform="translate(417.90000000000003 313.2) scale(1.1034 1)" font-size="4.4" font-weight="bold" text-anchor="start" fill="#111" stroke="#111" stroke-width="0.22" >60</text>
<path d="M439.6 306.4V308.59999999999997" stroke="#111" stroke-width="0.7"/>
<text transform="translate(435.75 313.2) scale(1.0489 1)" font-size="4.4" font-weight="bold" text-anchor="start" fill="#111" stroke="#111" stroke-width="0.22" >120</text>
<text transform="translate(396.6 321.6) scale(1.1430 1)" font-size="4.6" font-weight="bold" text-anchor="start" fill="#111" stroke="#111" stroke-width="0.22" >Time after infection</text>
<text transform="translate(414.3 326.5) scale(1.1564 1)" font-size="4.6" font-weight="bold" text-anchor="start" fill="#111" stroke="#111" stroke-width="0.22" >(min)</text>
<text transform="translate(376.7 307) rotate(-90) scale(1.0033 1)" font-size="4.3" font-weight="bold" text-anchor="start" fill="#111" stroke="#111" stroke-width="0.3" >S1-ATP1A1 MFI(</text>
<text transform="translate(376.7 270.3) rotate(-90) scale(1.0529 1)" font-size="4.3" font-weight="bold" text-anchor="start" fill="#111" stroke="#111" stroke-width="0.3" >X1000)</text>
<path d="M401.6 283V291.6" stroke="#555" stroke-width="0.5" fill="none"/>
<path d="M395.4 287H408" stroke="#1a1a1a" stroke-width="0.9" fill="none"/>
<path d="M399.3 283H403.90000000000003M399.3 291.6H403.90000000000003" stroke="#222" stroke-width="0.75" fill="none"/>
<circle cx="401.6" cy="283" r="1.25" fill="#111"/>
<circle cx="401.6" cy="286.6" r="1.25" fill="#111"/>
<circle cx="401.6" cy="291.6" r="1.25" fill="#111"/>
<path d="M420.6 263V272.4" stroke="#555" stroke-width="0.5" fill="none"/>
<path d="M414.4 267.6H427" stroke="#1a1a1a" stroke-width="0.9" fill="none"/>
<path d="M418.20000000000005 263H423.0M418.20000000000005 272.4H423.0" stroke="#222" stroke-width="0.75" fill="none"/>
<rect x="419.45000000000005" y="261.85" width="2.3" height="2.3" fill="#111"/>
<rect x="419.45000000000005" y="265.85" width="2.3" height="2.3" fill="#111"/>
<rect x="419.45000000000005" y="271.25" width="2.3" height="2.3" fill="#111"/>
<path d="M439.6 290.4V291.4" stroke="#555" stroke-width="0.5" fill="none"/>
<path d="M433.6 290.9H445.6" stroke="#1a1a1a" stroke-width="0.9" fill="none"/>
<path d="M438.0 290.4H441.20000000000005M438.0 291.4H441.20000000000005" stroke="#222" stroke-width="0.75" fill="none"/>
<path d="M434.6 289.7L435.90000000000003 292.04H433.3Z" fill="#111"/>
<path d="M440 288.9L441.3 291.24H438.7Z" fill="#111"/>
<path d="M444.6 289.7L445.90000000000003 292.04H443.3Z" fill="#111"/>
<circle cx="470.2" cy="257.2" r="1.125" fill="#111"/>
<text transform="translate(477.59999999999997 259.09999999999997)" font-size="5.2" font-weight="normal" text-anchor="start" fill="#333" stroke="#333" stroke-width="0.08" >0</text>
<rect x="469.16499999999996" y="263.16499999999996" width="2.07" height="2.07" fill="#111"/>
<text transform="translate(477.59999999999997 266.09999999999997)" font-size="5.2" font-weight="normal" text-anchor="start" fill="#333" stroke="#333" stroke-width="0.08" >60</text>
<path d="M470.2 270.33L471.37 272.436H469.03Z" fill="#111"/>
<text transform="translate(477.59999999999997 273.4)" font-size="5.2" font-weight="normal" text-anchor="start" fill="#333" stroke="#333" stroke-width="0.08" >120</text>
</svg>
</body></html>
